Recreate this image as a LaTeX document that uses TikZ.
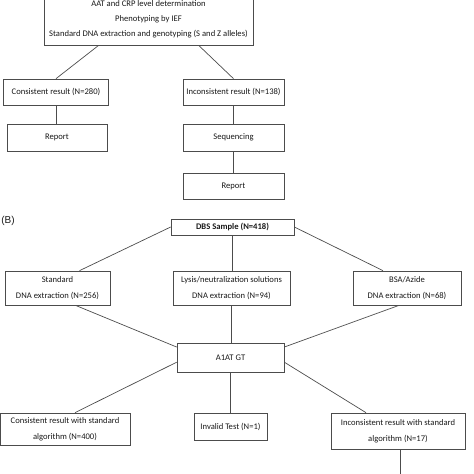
\documentclass[tikz,border=0pt]{standalone}
\usepackage{fontspec}
\setmainfont{Carlito}
\newfontfamily\labelfont{Liberation Sans}
\usetikzlibrary{calc}

\begin{document}
\begin{tikzpicture}[x=1pt, y=-1pt,
    flowbox/.style={draw=black!70, line width=0.7pt, align=center, inner sep=0pt,
        text=black!90, font=\fontsize{8.6}{16.5}\selectfont},
    link/.style={draw=black!70, line width=0.7pt}]

\useasboundingbox (0,0) rectangle (474,474);

% Part (A) - top box
\node[flowbox, minimum width=209pt, minimum height=52pt, font=\fontsize{8.6}{15}\selectfont] (topA) at (148.5,19)
    {AAT and CRP level determination\\Phenotyping by IEF\\Standard DNA extraction and genotyping (S and Z alleles)};

% Results
\node[flowbox, minimum width=105pt, minimum height=26pt] (consA) at (56,92) {Consistent result (N=280)};
\node[flowbox, minimum width=101pt, minimum height=26pt] (inconsA) at (233.5,92) {Inconsistent result (N=138)};

% Reports and sequencing
\node[flowbox, minimum width=100pt, minimum height=27pt] (reportA) at (57,137.5) {Report};
\node[flowbox, minimum width=101pt, minimum height=27pt] (seqA) at (233.5,137.5) {Sequencing};
\node[flowbox, minimum width=101pt, minimum height=26pt] (reportB) at (233.5,186) {Report};

\draw[link] ($(topA.south west)+(55,0)$) -- (consA.north);
\draw[link] ($(topA.south west)+(155,0)$) -- (inconsA.north);
\draw[link] (consA.south) -- (consA.south |- reportA.north);
\draw[link] (inconsA.south) -- (seqA.north);
\draw[link] (seqA.south) -- (reportB.north);

% Part (B) label
\node[font=\labelfont\fontsize{10}{12}\selectfont, text=black!90] (labB) at (8,221) {(B)};

% Sample
\node[flowbox, minimum width=123pt, minimum height=16pt, font=\bfseries\fontsize{8.6}{16}\selectfont] (dbs) at (232.5,227) {DBS Sample (N=418)};

% Extraction methods
\node[flowbox, minimum width=105pt, minimum height=34pt] (std) at (57.5,288) {Standard\\DNA extraction (N=256)};
\node[flowbox, minimum width=117pt, minimum height=34pt] (lysis) at (231.5,288) {Lysis/neutralization solutions\\DNA extraction (N=94)};
\node[flowbox, minimum width=108pt, minimum height=34pt] (bsa) at (407,288) {BSA/Azide\\DNA extraction (N=68)};

\draw[link] (dbs.west) -- ($(std.north)+(22,0)$);
\draw[link] (dbs.south) -- (dbs.south |- lysis.north);
\draw[link] (dbs.east) -- ($(bsa.north)+(-24,0)$);

% Genotyping
\node[flowbox, minimum width=107pt, minimum height=29pt] (gt) at (230.5,357.5) {A1AT GT};

\draw[link] ($(std.south)+(18,0)$) -- (gt.169);
\draw[link] (lysis.south) -- (lysis.south |- gt.north);
\draw[link] ($(bsa.south)+(-8,0)$) -- (gt.11);

% Outcomes
\node[flowbox, minimum width=130pt, minimum height=32pt] (consB) at (65,429) {Consistent result with standard\\algorithm (N=400)};
\node[flowbox, minimum width=73pt, minimum height=27pt] (invalid) at (230.5,426.5) {Invalid Test (N=1)};
\node[flowbox, minimum width=134pt, minimum height=36pt] (inconsB) at (398,431) {Inconsistent result with standard\\algorithm (N=17)};
\coordinate (downB) at (400,480);

\draw[link] (gt.185) -- ($(consB.north)+(10,0)$);
\draw[link] (gt.south) -- (gt.south |- invalid.north);
\draw[link] (gt.355) -- ($(inconsB.north)+(-32,0)$);
\draw[link] ($(inconsB.south)+(2,0)$) -- (downB);

\end{tikzpicture}
\end{document}
